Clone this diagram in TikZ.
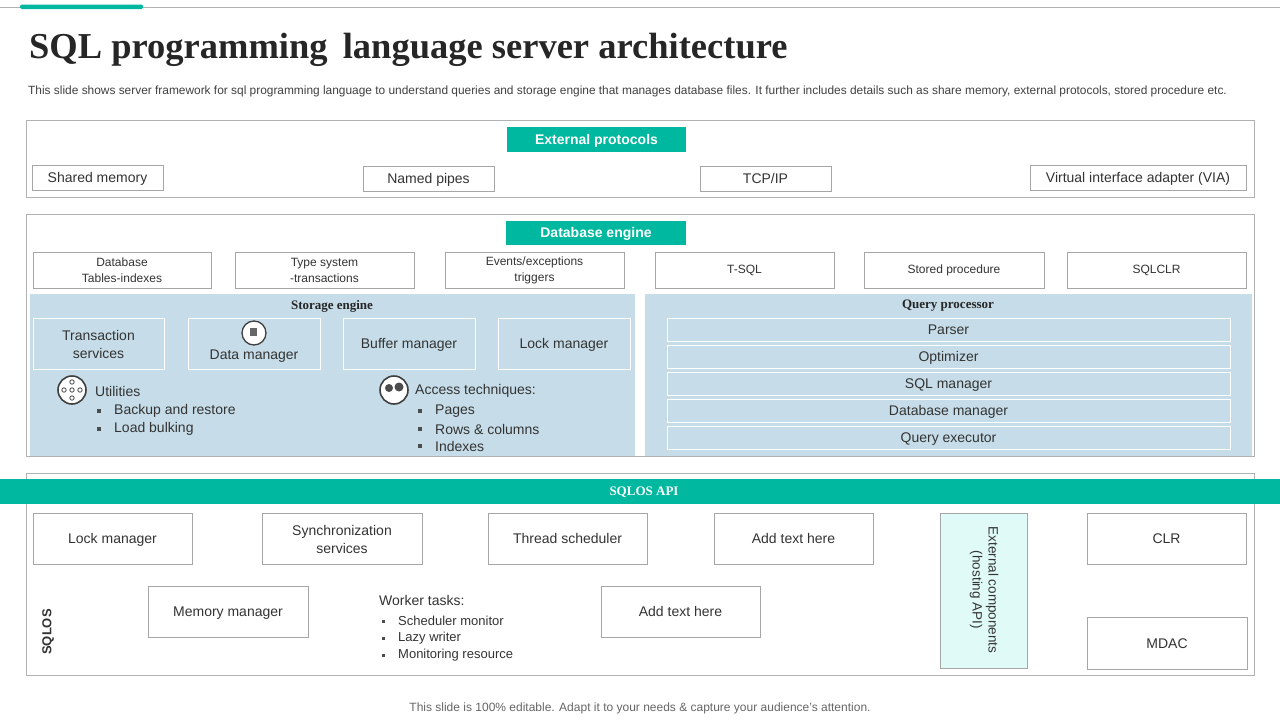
\documentclass[tikz,border=0pt]{standalone}
\usepackage{fontspec}
\setmainfont{Liberation Sans}
\newfontfamily\serifb{Liberation Serif}
\begin{document}
\begin{tikzpicture}[x=1pt,y=-1pt,
  box/.style={draw=gray!70,line width=0.6pt,fill=white,inner sep=0pt,align=center,font=\fontsize{14}{18}\selectfont,text=black!80,text height=10pt,text depth=0pt},
  ml/.style={text height={},text depth={}},
  sbox/.style={box,ml,font=\fontsize{12}{16}\selectfont},
  lbox/.style={draw=white,line width=0.8pt,fill=none,inner sep=0pt,align=center,font=\fontsize{14}{18}\selectfont,text=black!80,text height=10pt,text depth=0pt},
  frame/.style={draw=gray!60,line width=0.6pt},
  head/.style={fill=teal1,inner sep=0pt,text=white,font=\bfseries\fontsize{14}{15}\selectfont,text height=10pt,text depth=1pt},
  txt/.style={inner sep=0pt,anchor=west,font=\fontsize{14}{15}\selectfont,text=black!80},
  bul/.style={fill=black!70,minimum size=3.5pt,inner sep=0pt},
  icon/.style={circle,draw=black!75,line width=1.6pt,fill=white,minimum size=28pt,inner sep=0pt}]
\definecolor{teal1}{HTML}{00B89F}
\definecolor{lb}{HTML}{C6DDE9}
\definecolor{cy}{HTML}{E0FBF7}
\useasboundingbox (0,0) rectangle (1280,720);
\fill[white] (0,0) rectangle (1280,720);
\draw[gray!60,line width=0.8pt] (0,7) -- (1280,7);
\fill[teal1,rounded corners=1.5pt] (20,4.5) rectangle (143,9);
\node[anchor=west,inner sep=0pt,font=\serifb\bfseries\fontsize{36.5}{38}\selectfont,text=black!85] (title) at (29,50) {SQL programming\, language server architecture};
\node[anchor=west,inner sep=0pt,font=\fontsize{11.9}{13}\selectfont,text=black!75] (sub) at (28,91) {This slide shows server framework for sql programming language to understand queries and storage engine that manages database files. It further includes details such as share memory, external protocols, stored procedure etc.};
% external
\draw[frame] (26,120) rectangle (1254,197);
\node[head,minimum width=179pt,minimum height=25pt] (ep) at (596.5,139.5) {External protocols};
\node[box,minimum width=131pt,minimum height=25pt] (sm) at (97.5,177.5) {Shared memory};
\node[box,minimum width=131pt,minimum height=25pt] (np) at (428.5,178.5) {Named pipes};
\node[box,minimum width=131pt,minimum height=25pt] (tcp) at (765.5,178.5) {TCP/IP};
\node[box,minimum width=216pt,minimum height=25pt] (via) at (1138,177.5) {Virtual interface adapter (VIA)};
% db engine
\draw[frame] (26,214) rectangle (1254,456);
\node[head,minimum width=180pt,minimum height=24pt] (de) at (596,233) {Database engine};
\foreach \n/\a/\b/\t in {d1/33/211/{Database\\Tables-indexes},d2/235/414/{Type system\\-transactions},d3/445/624/{Events/exceptions\\triggers},d4/655/834/{T-SQL},d5/864/1044/{Stored procedure},d6/1067/1246/{SQLCLR}}
  \node[sbox,minimum width=\b-\a,minimum height=36pt] (\n) at ({(\a+\b)/2},270.5) {\t};
\fill[lb] (30,294) rectangle (635,456);
\fill[lb] (645,294) rectangle (1252,456);
\node[inner sep=0pt,font=\serifb\bfseries\fontsize{13}{14}\selectfont,text=black!85] (se) at (332,306) {Storage engine};
\node[inner sep=0pt,font=\serifb\bfseries\fontsize{13}{14}\selectfont,text=black!85] (qp) at (948,306) {Query processor};
\node[lbox,ml,minimum width=131pt,minimum height=51pt] (ts) at (98.5,344) {Transaction\\services};
\node[lbox,minimum width=132pt,minimum height=51pt] (dm) at (254,343.5) {};
\node[txt,anchor=center] (dmt) at (254,356) {Data manager};
\node[icon,minimum size=24pt,line width=1.3pt] (dmi) at (254,333) {};
\fill[black!60] (250,328) rectangle (257,336);
\node[lbox,minimum width=132pt,minimum height=51pt] (bm) at (409,343.5) {Buffer manager};
\node[lbox,minimum width=132pt,minimum height=51pt] (lm) at (564,343.5) {Lock manager};
\node[icon] (ui) at (72,390) {};
\foreach \p in {(64,390),(72,390),(80,390),(72,382),(72,398)} \draw[black!70,line width=0.8pt] \p circle (2.2pt);
\node[txt] (ut) at (95,391) {Utilities};
\node[bul] at (99,411) {}; \node[txt] at (114,411) {Backup and restore};
\node[bul] at (99,429) {}; \node[txt] at (114,429) {Load bulking};
\node[icon] (ai) at (394,390) {};
\fill[black!70] (389,388) circle (4pt); \fill[black!70] (399,387) circle (4.5pt);
\node[txt] (at) at (415,391) {Access techniques:};
\node[bul] at (420,411) {}; \node[txt] at (435,411) {Pages};
\node[bul] at (420,429) {}; \node[txt] at (435,429) {Rows \& columns};
\node[bul] at (420,446) {}; \node[txt] at (435,446) {Indexes};
\foreach \n/\y/\t in {q1/329.5/Parser,q2/356.5/Optimizer,q3/383.5/SQL manager,q4/410.5/Database manager,q5/437.5/Query executor}
  \node[lbox,minimum width=563pt,minimum height=23pt] (\n) at (948.5,\y) {\t};
% sqlos
\draw[frame] (26,473) rectangle (1254,675);
\fill[teal1] (0,479) rectangle (1280,504);
\node[inner sep=0pt,text=white,font=\serifb\bfseries\fontsize{13}{14}\selectfont] (api) at (644,492) {SQLOS API};
\foreach \n/\a/\t in {s1/33/{Lock manager},s3/488/{Thread scheduler},s4/714/{Add text here},s5/1087/{CLR}}
  \node[box,minimum width=159pt,minimum height=51pt] (\n) at (\a+79.5,538.5) {\t};
\node[box,ml,minimum width=160pt,minimum height=51pt] (s2) at (342,539) {Synchronization\\services};
\node[box,fill=cy,minimum width=87pt,minimum height=155pt] (ext) at (983.5,590.5) {};
\node[inner sep=0pt,rotate=-90,align=center,font=\fontsize{13.5}{16}\selectfont,text=black!80] (extt) at (984,590) {External components\\(hosting API)};
\node[box,minimum width=160pt,minimum height=51pt] (mm) at (228,611.5) {Memory manager};
\node[box,minimum width=159pt,minimum height=51pt] (ad2) at (680.5,611.5) {Add text here};
\node[box,minimum width=160pt,minimum height=52pt] (mdac) at (1167,643) {MDAC};
\node[txt] (wt) at (379,600) {Worker tasks:};
\foreach \y/\t in {621/Scheduler monitor,638/Lazy writer,655/Monitoring resource}{
  \node[bul,minimum size=3pt] at (383,\y) {}; \node[txt,font=\fontsize{13}{14}\selectfont] at (398,\y) {\t};}
\node[inner sep=0pt,rotate=90,font=\bfseries\fontsize{13}{14}\selectfont,text=black!80] (sq) at (48,632) {SQLOS};
\node[inner sep=0pt,font=\fontsize{12}{13}\selectfont,text=black!60] (foot) at (640,708) {This slide is 100\% editable. Adapt it to your needs \& capture your audience’s attention.};
\end{tikzpicture}
\end{document}
